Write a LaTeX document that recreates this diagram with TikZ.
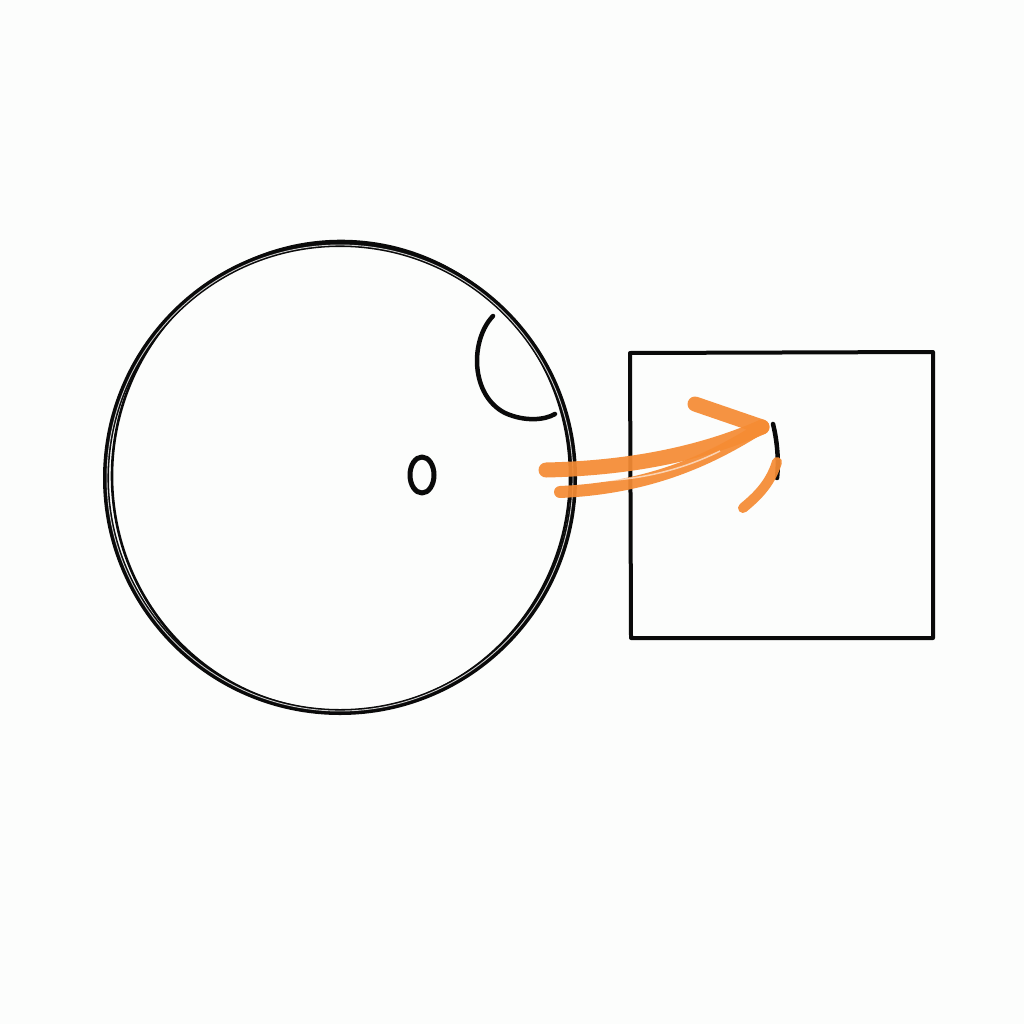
\documentclass[tikz,border=0pt]{standalone}
\definecolor{bg}{RGB}{252,253,252}
\definecolor{ink}{RGB}{10,10,10}
\definecolor{marker}{RGB}{245,140,52}
\begin{document}
\begin{tikzpicture}[x=1pt,y=-1pt,
  inkline/.style={draw=ink,line cap=round,line join=round},
  orangestroke/.style={draw=marker,line width=15pt,line cap=round,line join=round,opacity=0.93}]
\fill[bg] (0,0) rectangle (1024,1024);
\useasboundingbox (0,0) rectangle (1024,1024);
% big circle (sketchy double stroke)
\coordinate (c) at (340,478);
\draw[inkline,line width=6pt] (c) ellipse [x radius=234, y radius=234];
\draw[inkline,line width=2.6pt] (341,476) ellipse [x radius=229, y radius=235];
\draw[draw=white,line width=0.9pt,opacity=0.8] (c) ellipse [x radius=233, y radius=233];
% bite shape
\coordinate (b1) at (493,316);
\coordinate (b2) at (555,414);
\draw[inkline,line width=4.5pt] (b1) .. controls (470,340) and (470,395) .. (505,413) .. controls (525,422) and (545,420) .. (b2);
% small ellipse
\draw[inkline,line width=5pt] (422,475) ellipse [x radius=12, y radius=18];
% square
\coordinate (s1) at (630,353);
\coordinate (s2) at (933,638);
\draw[inkline,line width=4pt] (s1) -- (933,352) -- (s2) -- (631,638) -- cycle;
% orange arrow
\coordinate (a0) at (546,470);
\coordinate (a1) at (560,492);
\coordinate (tip) at (762,427);
\coordinate (barb) at (695,404);
\draw[orangestroke] (a0) .. controls (640,468) and (710,450) .. (tip);
\draw[orangestroke,line width=12pt] (a1) .. controls (650,488) and (710,460) .. (tip);
\draw[orangestroke] (barb) -- (tip);
\draw[draw=white,line width=1.5pt,opacity=0.6] (600,481) .. controls (650,479) and (690,466) .. (720,451);
% small marks at right
\coordinate (m0) at (773,424);
\coordinate (m1) at (777,478);
\draw[inkline,line width=4.5pt] (m0) .. controls (777,440) and (779,460) .. (m1);
\coordinate (o0) at (777,462);
\coordinate (o1) at (743,508);
\draw[orangestroke,line width=10pt] (o0) .. controls (770,485) and (755,498) .. (o1);
\end{tikzpicture}
\end{document}
